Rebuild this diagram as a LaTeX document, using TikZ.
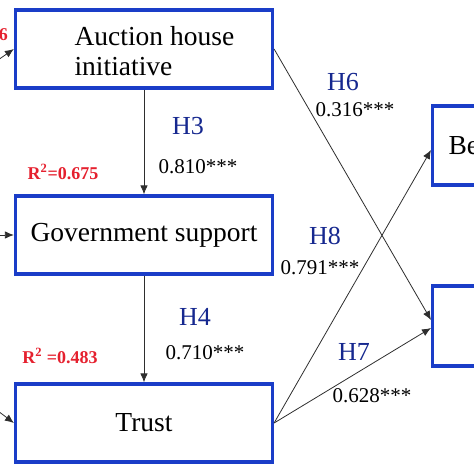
\documentclass[tikz,border=0pt]{standalone}
\usepackage{fontspec}
\setmainfont{Liberation Serif}
\usepackage{xcolor}
\definecolor{boxblue}{HTML}{1A3DC8}
\definecolor{hypnavy}{HTML}{16288F}
\definecolor{rsqred}{HTML}{E5202E}
\definecolor{linkgray}{HTML}{2E2E2E}
\usetikzlibrary{positioning,arrows.meta}

\begin{document}
\begin{tikzpicture}[x=1pt,y=-1pt,
  construct/.style={draw=boxblue, line width=3.2pt, fill=white, inner sep=0pt,
    font=\fontsize{27.5}{30}\selectfont},
  link/.style={draw=linkgray, line width=0.8pt, -{Latex[length=9pt,width=7.5pt]}},
  hyp/.style={font=\fontsize{26}{28}\selectfont, text=hypnavy, inner sep=0pt},
  coef/.style={font=\fontsize{21}{24}\selectfont, inner sep=0pt},
  rsq/.style={font=\fontsize{18}{20}\selectfont\bfseries, text=rsqred, inner sep=0pt}]
  \useasboundingbox (0,0) rectangle (474,474);
  \clip (0,0) rectangle (474,474);
  % constructs
  \node[construct, minimum width=257pt, minimum height=78pt] (auction) at (144,49) {};
  \node[construct, fill=none, draw=none, anchor=west, align=left] (auctiontext) at (73,51) {Auction house\\initiative};
  \node[construct, minimum width=257pt, minimum height=78pt] (gov) at (144,235) {Government support};
  \node[construct, minimum width=257pt, minimum height=78pt] (trust) at (144,423) {Trust};
  \node[construct, anchor=west, minimum height=79pt, text width=80pt, inner xsep=16pt, align=left] (behav) at (431,145.5) {Be};
  \node[construct, anchor=west, minimum width=100pt, minimum height=80pt] (outcome) at (431,326) {};
  % paths
  \draw[link] (auction) -- (gov);
  \draw[link] (gov) -- (trust);
  \draw[link] (auction.east) -- ([yshift=6pt]outcome.west);
  \draw[link] (trust.east) -- ([yshift=-4.5pt]behav.west);
  \draw[link] (trust.east) -- ([yshift=-2pt]outcome.west);
  \coordinate (inA) at (-2,60);
  \coordinate (inG) at (-2,235);
  \coordinate (inT) at (-2,411);
  \draw[link] (inA) -- (auction.west);
  \draw[link] (inG) -- (gov.west);
  \draw[link] (inT) -- (trust.west);
  % hypotheses and coefficients
  \node[hyp] (h3) at (188,126) {H3};
  \node[coef] (c3) at (198,167) {0.810***};
  \node[hyp] (h4) at (195,317) {H4};
  \node[coef] (c4) at (205,353) {0.710***};
  \node[hyp] (h6) at (343,82) {H6};
  \node[coef] (c6) at (355,110) {0.316***};
  \node[hyp] (h8) at (325,236) {H8};
  \node[coef] (c8) at (320,268) {0.791***};
  \node[hyp] (h7) at (354,352) {H7};
  \node[coef] (c7) at (372,396) {0.628***};
  % R squared
  \node[rsq, anchor=east] (r2auction) at (8,35) {6};
  \node[rsq] (r2gov) at (63,172) {R\textsuperscript{2}=0.675};
  \node[rsq] (r2trust) at (60,356) {R\textsuperscript{2} =0.483};
\end{tikzpicture}
\end{document}
